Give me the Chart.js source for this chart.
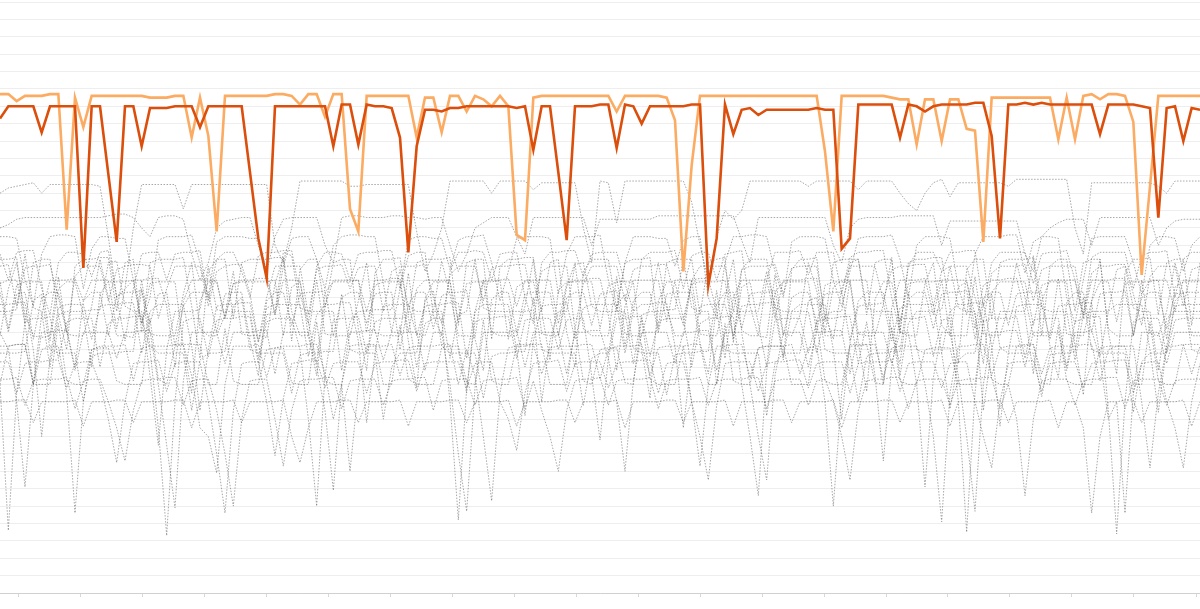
<!DOCTYPE html>
<html>
<head>
<meta charset="utf-8">
<script src="https://cdn.jsdelivr.net/npm/chart.js@4"></script>
<style>
  html, body { margin: 0; padding: 0; background: #fff; }
  #wrap { width: 1200px; height: 609px; }
</style>
</head>
<body>
<div id="wrap"><canvas id="chart"></canvas></div>
<script>
// --- datos ---
const days = Array.from({ length: 145 }, (_, i) => i);

// serie destacada oscura
const darkSeries = [
  27.3, 28.0, 28.0, 28.0, 28.0, 26.5, 28.0, 28.0, 28.0, 28.0,
  18.7, 28.0, 28.0, 24.1, 20.2, 28.0, 28.0, 25.7, 27.9, 27.9,
  27.9, 28.0, 28.0, 28.0, 26.8, 28.0, 28.0, 28.0, 28.0, 28.0,
  24.2, 20.4, 18.1, 28.0, 28.0, 28.0, 28.0, 28.0, 28.0, 28.0,
  25.7, 28.1, 28.1, 25.8, 28.1, 28.0, 28.0, 27.9, 26.2, 19.6,
  25.7, 27.8, 27.8, 27.7, 27.9, 27.9, 28.0, 28.0, 28.0, 28.0,
  28.0, 28.0, 27.9, 28.0, 25.5, 28.0, 28.0, 24.2, 20.3, 28.0,
  28.0, 28.0, 28.1, 28.1, 25.6, 28.1, 28.0, 27.0, 28.0, 28.0,
  28.0, 28.0, 28.0, 28.1, 28.1, 17.7, 20.4, 28.1, 26.4, 27.8,
  27.9, 27.5, 27.8, 27.8, 27.8, 27.8, 27.8, 27.8, 27.9, 27.8,
  27.8, 19.8, 20.4, 28.1, 28.1, 28.1, 28.1, 28.1, 26.2, 28.1,
  28.0, 27.7, 28.0, 28.1, 28.1, 28.1, 28.1, 28.2, 28.2, 26.3,
  20.4, 28.1, 28.1, 28.2, 28.1, 28.2, 28.1, 28.1, 28.1, 28.1,
  28.1, 28.1, 26.4, 28.1, 28.1, 28.1, 28.1, 28.0, 27.9, 21.6,
  27.9, 28.0, 26.0, 27.9, 27.8
];

// serie destacada clara
const lightSeries = [
  28.7, 28.7, 28.3, 28.6, 28.6, 28.6, 28.7, 28.7, 20.9, 28.5,
  26.8, 28.6, 28.6, 28.6, 28.6, 28.6, 28.6, 28.6, 28.5, 28.5,
  28.5, 28.6, 28.6, 26.2, 28.5, 26.3, 20.8, 28.6, 28.6, 28.6,
  28.6, 28.6, 28.6, 28.7, 28.7, 28.6, 28.1, 28.7, 28.7, 27.4,
  28.7, 28.7, 22.1, 20.8, 28.6, 28.6, 28.6, 28.6, 28.6, 28.6,
  26.2, 28.5, 28.5, 26.5, 28.6, 28.6, 27.7, 28.6, 28.4, 28.0,
  28.6, 28.0, 20.6, 20.3, 28.5, 28.6, 28.6, 28.6, 28.6, 28.6,
  28.6, 28.6, 28.6, 28.6, 27.7, 28.6, 28.6, 28.6, 28.6, 28.6,
  28.5, 27.2, 18.5, 24.6, 28.6, 28.6, 28.6, 28.6, 28.6, 28.6,
  28.6, 28.6, 28.6, 28.6, 28.6, 28.6, 28.6, 28.6, 28.6, 25.4,
  20.8, 28.6, 28.6, 28.6, 28.6, 28.6, 28.6, 28.5, 28.4, 28.4,
  25.8, 28.4, 28.4, 26.0, 28.4, 28.4, 26.7, 26.6, 20.2, 28.5,
  28.5, 28.5, 28.5, 28.5, 28.5, 28.5, 28.5, 26.1, 28.5, 26.1,
  28.6, 28.7, 28.4, 28.7, 28.7, 28.6, 27.1, 18.3, 23.4, 28.6,
  28.6, 28.6, 28.6, 28.6, 28.6
];

// resto de series (fondo gris)
const g01 = [
  23.0, 23.3, 23.4, 23.5, 23.6, 23.0, 23.5, 23.5, 23.5, 23.5,
  23.5, 23.5, 23.4, 20.5, 17.0, 17.5, 21.0, 23.5, 23.5, 23.5,
  23.5, 23.5, 22.1, 23.5, 23.5, 23.5, 23.5, 23.5, 23.5, 23.5,
  23.5, 23.5, 23.5, 20.0, 19.0, 21.0, 23.7, 23.7, 23.7, 23.7,
  23.7, 23.7, 23.4, 23.4, 23.5, 23.5, 23.5, 23.5, 23.5, 23.5,
  20.8, 18.5, 19.5, 21.0, 23.7, 23.7, 23.7, 23.7, 23.7, 23.0,
  23.7, 23.7, 23.7, 23.7, 23.2, 23.6, 23.6, 23.6, 23.6, 23.6,
  21.0, 19.0, 23.7, 23.6, 21.3, 23.7, 23.7, 23.7, 23.7, 23.7,
  23.7, 23.7, 23.7, 22.5, 20.0, 18.0, 20.5, 22.0, 21.5, 22.0,
  23.7, 23.7, 23.7, 23.7, 23.7, 23.7, 23.7, 23.4, 23.7, 23.7,
  23.7, 23.7, 23.7, 23.2, 23.7, 23.7, 23.7, 23.7, 23.0, 22.4,
  22.0, 23.0, 23.6, 23.8, 22.8, 23.6, 23.6, 23.6, 23.6, 23.6,
  23.6, 23.4, 23.8, 23.8, 23.8, 23.8, 23.8, 23.8, 23.8, 21.0,
  19.5, 23.6, 23.6, 23.6, 23.6, 23.6, 23.6, 23.6, 23.6, 23.4,
  23.0, 23.7, 23.7, 23.7, 23.7
];
const g02 = [
  21.0, 21.2, 21.5, 21.6, 21.6, 21.6, 21.6, 21.6, 21.6, 21.6,
  21.6, 21.6, 21.6, 21.7, 21.8, 21.8, 21.6, 21.0, 20.5, 21.6,
  21.7, 21.7, 21.5, 19.5, 18.0, 19.0, 21.0, 21.4, 21.5, 21.6,
  21.6, 20.0, 18.5, 20.5, 21.5, 21.6, 21.6, 21.6, 21.6, 20.0,
  19.0, 21.6, 21.7, 21.7, 21.6, 21.6, 21.6, 21.7, 21.7, 21.6,
  21.6, 21.5, 21.6, 21.6, 20.0, 18.5, 19.5, 21.0, 21.3, 21.6,
  21.6, 21.6, 20.5, 19.5, 21.6, 21.6, 21.6, 21.6, 21.6, 21.6,
  21.6, 20.0, 21.5, 21.5, 21.5, 21.5, 21.5, 21.5, 21.5, 21.7,
  21.7, 21.7, 21.7, 21.7, 21.7, 21.7, 21.7, 21.7, 21.7, 20.3,
  19.0, 21.6, 21.6, 21.6, 21.6, 21.6, 21.6, 21.6, 21.6, 21.6,
  20.0, 19.0, 21.0, 21.5, 21.6, 21.6, 21.6, 21.6, 21.7, 21.7,
  21.7, 21.7, 21.7, 20.0, 21.4, 21.4, 21.4, 21.4, 21.4, 21.4,
  21.4, 21.4, 21.4, 19.5, 18.5, 20.5, 21.0, 21.3, 21.5, 21.5,
  21.5, 20.0, 21.6, 21.6, 21.6, 21.6, 21.6, 21.6, 21.6, 20.0,
  21.0, 21.4, 21.5, 21.5, 21.5
];
const g03 = [
  20.5, 20.5, 20.4, 18.0, 16.5, 19.5, 20.5, 20.6, 20.6, 20.5, 17.5, 19.8, 20.5, 20.5, 20.4,
  20.4, 18.0, 15.5, 17.0, 20.3, 20.5, 20.5, 20.5, 20.6, 19.0, 17.0, 20.2, 20.5, 20.5, 20.5,
  20.4, 20.4, 18.5, 16.0, 18.8, 20.4, 20.5, 20.5, 19.2, 17.5, 20.0, 20.5, 20.6, 20.6, 20.5,
  20.5, 17.8, 15.0, 17.5, 20.3, 20.5, 20.5, 20.4, 20.4, 18.6, 20.3, 20.5, 20.5, 20.6, 19.0,
  16.8, 18.5, 20.4, 20.5, 20.5, 20.5, 20.4, 17.2, 19.5, 20.5, 20.5, 20.5, 20.6, 18.0, 16.2,
  19.0, 20.5, 20.5, 20.5, 20.4, 20.4, 18.8, 20.3, 20.5, 20.5, 17.0, 15.8, 19.0, 20.5, 20.5,
  20.6, 20.6, 20.5, 18.5, 17.0, 20.2, 20.5, 20.5, 20.5, 20.4, 18.0, 16.5, 18.5, 20.4, 20.5,
  20.5, 20.5, 20.6, 19.2, 17.0, 20.0, 20.5, 20.5, 20.5, 20.4, 17.6, 16.0, 19.5, 20.5, 20.5,
  20.5, 20.6, 20.6, 18.4, 20.2, 20.5, 20.5, 20.4, 17.0, 15.5, 18.0, 20.4, 20.5, 20.5, 20.5,
  20.5, 19.0, 17.2, 20.0, 20.5, 20.5, 20.4, 18.5, 20.0, 20.5
];
const g04 = [
  19.5, 18.0, 19.6, 19.7, 19.7, 17.5, 16.0, 19.0, 19.6, 19.6, 19.5, 18.2, 19.6, 19.7, 17.0,
  14.5, 17.5, 19.5, 19.6, 19.6, 18.0, 19.5, 19.6, 19.6, 19.7, 16.8, 19.2, 19.6, 19.6, 18.5,
  17.0, 19.4, 19.6, 19.6, 19.7, 19.7, 17.2, 15.5, 18.8, 19.6, 19.6, 19.5, 18.0, 19.5, 19.6,
  19.6, 19.7, 19.7, 17.5, 19.4, 19.6, 19.6, 16.0, 14.8, 18.5, 19.6, 19.6, 19.7, 19.6, 18.0,
  19.5, 19.6, 19.6, 17.0, 15.5, 19.0, 19.6, 19.6, 19.7, 19.7, 18.2, 19.5, 19.6, 19.6, 19.6,
  17.8, 16.2, 19.2, 19.6, 19.6, 19.6, 19.7, 17.5, 19.4, 19.6, 19.6, 18.0, 19.5, 19.6, 19.7,
  16.5, 14.8, 18.0, 19.6, 19.6, 19.6, 19.7, 18.3, 19.6, 19.6, 19.6, 17.2, 19.3, 19.6, 19.6,
  19.7, 19.7, 17.0, 15.0, 18.8, 19.6, 19.6, 19.6, 18.5, 19.6, 19.6, 19.7, 19.7, 16.5, 19.0,
  19.6, 19.6, 19.6, 19.6, 17.8, 19.5, 19.6, 19.6, 19.7, 18.0, 16.0, 19.3, 19.6, 19.6, 19.6,
  19.6, 17.5, 19.4, 19.6, 19.6, 19.7, 17.0, 19.2, 19.6, 19.6
];
const g05 = [
  18.8, 18.9, 16.5, 18.7, 18.8, 18.8, 18.9, 17.0, 15.0, 18.2, 18.8, 18.8, 18.8, 16.8, 18.6,
  18.8, 18.9, 18.9, 18.8, 15.8, 17.5, 18.8, 18.8, 18.8, 18.8, 16.5, 18.5, 18.8, 18.9, 18.9,
  17.2, 14.5, 17.0, 18.8, 18.8, 18.8, 18.8, 16.0, 18.6, 18.8, 18.8, 18.9, 17.5, 18.7, 18.8,
  18.8, 16.2, 18.5, 18.8, 18.8, 18.8, 18.9, 17.0, 15.5, 18.3, 18.8, 18.8, 18.8, 16.8, 18.7,
  18.8, 18.8, 18.9, 18.9, 16.5, 18.5, 18.8, 18.8, 18.8, 15.2, 17.8, 18.8, 18.8, 18.8, 18.8,
  16.8, 18.6, 18.8, 18.8, 18.9, 18.9, 17.0, 15.4, 18.0, 18.8, 18.8, 18.8, 18.8, 16.2, 18.6,
  18.8, 18.8, 18.8, 18.9, 17.2, 18.7, 18.8, 18.8, 18.8, 16.0, 14.6, 17.5, 18.8, 18.8, 18.8,
  18.8, 16.8, 18.6, 18.8, 18.8, 18.9, 18.9, 16.5, 18.5, 18.8, 18.8, 18.8, 17.0, 15.6, 18.4,
  18.8, 18.8, 18.8, 18.9, 16.8, 18.6, 18.8, 18.8, 18.8, 18.8, 16.0, 18.4, 18.8, 18.8, 18.9,
  18.9, 17.2, 15.4, 18.2, 18.8, 18.8, 18.8, 16.5, 18.6, 18.8
];
const g06 = [
  17.8, 18.0, 18.0, 15.5, 12.0, 16.0, 18.0, 18.0, 18.0, 18.1, 16.8, 18.0, 18.0, 18.0, 15.2,
  17.5, 18.0, 18.0, 18.1, 18.1, 16.5, 13.0, 16.8, 18.0, 18.0, 18.0, 18.0, 15.8, 17.8, 18.0,
  18.0, 18.1, 18.1, 16.0, 18.0, 18.0, 18.0, 14.8, 12.5, 16.5, 18.0, 18.0, 18.0, 18.0, 16.2,
  18.0, 18.0, 18.1, 18.1, 15.0, 17.5, 18.0, 18.0, 18.0, 18.0, 14.0, 11.5, 16.2, 18.0, 18.0,
  18.0, 18.1, 16.5, 18.0, 18.0, 18.0, 18.0, 15.5, 17.8, 18.0, 18.0, 18.1, 18.1, 16.0, 12.8,
  16.5, 18.0, 18.0, 18.0, 18.0, 15.6, 18.0, 18.0, 18.0, 18.1, 18.1, 16.2, 13.5, 17.0, 18.0,
  18.0, 18.0, 18.0, 15.8, 18.0, 18.0, 18.0, 18.1, 18.1, 15.0, 17.6, 18.0, 18.0, 18.0, 18.0,
  14.6, 12.0, 16.4, 18.0, 18.0, 18.0, 18.1, 16.0, 18.0, 18.0, 18.0, 18.0, 15.2, 17.7, 18.0,
  18.0, 18.1, 18.1, 16.0, 12.6, 16.8, 18.0, 18.0, 18.0, 18.0, 15.8, 18.0, 18.0, 18.0, 18.1,
  18.1, 14.8, 17.2, 18.0, 18.0, 18.0, 16.2, 18.0, 18.0, 18.0
];
const g07 = [
  17.3, 15.0, 17.2, 17.3, 14.6, 17.0, 17.3, 17.3, 15.2, 13.0, 16.8, 17.3, 17.3, 14.8, 17.1,
  17.3, 17.3, 17.4, 15.5, 17.2, 17.3, 14.2, 16.5, 17.3, 17.3, 17.3, 15.0, 17.2, 17.3, 17.3,
  14.5, 12.5, 16.8, 17.3, 17.3, 15.4, 17.2, 17.3, 17.3, 17.4, 14.8, 17.0, 17.3, 17.3, 15.5,
  17.2, 17.3, 17.3, 14.0, 16.6, 17.3, 17.3, 15.2, 17.1, 17.3, 17.3, 17.4, 14.6, 12.8, 16.9,
  17.3, 17.3, 15.0, 17.2, 17.3, 17.3, 17.3, 14.8, 17.0, 17.3, 17.3, 15.4, 17.2, 17.3, 17.4,
  14.2, 16.8, 17.3, 17.3, 15.0, 17.2, 17.3, 17.3, 17.3, 14.4, 12.6, 16.6, 17.3, 17.3, 15.2,
  17.2, 17.3, 17.3, 17.4, 14.8, 17.0, 17.3, 17.3, 15.6, 17.2, 17.3, 17.3, 14.5, 16.8, 17.3,
  17.3, 17.3, 15.0, 13.2, 16.9, 17.3, 17.3, 15.2, 17.2, 17.3, 17.3, 17.4, 14.6, 17.0, 17.3,
  17.3, 15.4, 17.2, 17.3, 17.3, 17.3, 14.2, 12.4, 16.7, 17.3, 17.3, 15.0, 17.2, 17.3, 17.3,
  17.4, 14.8, 17.0, 17.3, 17.3, 15.2, 17.2, 17.3, 17.3, 17.3
];
const g08 = [
  16.6, 16.6, 16.7, 16.7, 14.0, 9.0, 13.5, 16.4, 16.6, 16.6, 16.6, 14.6, 16.5, 16.6, 16.6,
  16.7, 16.7, 13.8, 16.2, 16.6, 16.6, 16.6, 16.6, 14.2, 10.5, 14.0, 16.5, 16.6, 16.6, 16.7,
  16.7, 14.4, 16.4, 16.6, 16.6, 16.6, 16.6, 13.6, 16.0, 16.6, 16.6, 16.7, 16.7, 14.5, 9.8,
  13.8, 16.5, 16.6, 16.6, 16.6, 14.8, 16.5, 16.6, 16.6, 16.7, 16.7, 13.5, 16.2, 16.6, 16.6,
  16.6, 16.6, 14.0, 10.2, 14.5, 16.5, 16.6, 16.6, 16.7, 14.6, 16.4, 16.6, 16.6, 16.6, 16.6,
  13.8, 16.2, 16.6, 16.6, 16.7, 16.7, 14.2, 9.5, 13.6, 16.5, 16.6, 16.6, 16.6, 14.8, 16.5,
  16.6, 16.6, 16.7, 16.7, 13.6, 16.2, 16.6, 16.6, 16.6, 16.6, 14.0, 10.0, 14.4, 16.5, 16.6,
  16.6, 16.7, 14.5, 16.4, 16.6, 16.6, 16.6, 16.6, 13.8, 16.2, 16.6, 16.6, 16.7, 16.7, 14.2,
  9.6, 13.8, 16.5, 16.6, 16.6, 16.6, 14.6, 16.5, 16.6, 16.6, 16.7, 16.7, 13.6, 16.2, 16.6,
  16.6, 16.6, 16.6, 14.0, 10.4, 14.2, 16.5, 16.6, 16.6, 16.6
];
const g09 = [
  12.0, 3.6, 11.5, 15.6, 15.8, 15.8, 15.9, 13.5, 15.6, 15.8, 15.8, 15.8, 13.0, 15.5, 15.8,
  15.8, 15.9, 15.9, 14.0, 9.5, 3.3, 11.0, 15.6, 15.8, 15.8, 13.6, 15.7, 15.8, 15.8, 15.9,
  15.9, 13.2, 15.6, 15.8, 15.8, 15.8, 14.0, 10.0, 5.0, 12.5, 15.7, 15.8, 15.8, 15.9, 13.8,
  15.6, 15.8, 15.8, 15.8, 15.9, 13.0, 15.5, 15.8, 15.8, 11.0, 4.2, 11.8, 15.6, 15.8, 15.8,
  15.9, 15.9, 13.5, 15.7, 15.8, 15.8, 15.8, 14.0, 15.7, 15.8, 15.8, 12.5, 8.8, 13.5, 15.8,
  15.8, 15.9, 15.9, 13.6, 15.6, 15.8, 15.8, 15.8, 13.0, 15.5, 15.8, 15.8, 15.9, 15.9, 12.0,
  9.0, 5.6, 12.8, 15.7, 15.8, 15.8, 15.8, 13.8, 15.6, 15.8, 15.8, 15.9, 15.9, 13.2, 15.6,
  12.5, 7.6, 13.0, 15.8, 15.8, 15.8, 15.9, 13.6, 15.7, 15.8, 11.0, 3.5, 11.5, 15.6, 15.8,
  15.8, 15.8, 15.9, 13.5, 15.7, 15.8, 15.8, 15.8, 13.0, 15.6, 15.8, 15.9, 15.9, 10.5, 3.4,
  11.0, 15.6, 15.8, 15.8, 15.8, 13.8, 15.7, 15.8, 15.8, 15.8
];
const g10 = [
  15.0, 14.0, 11.0, 6.1, 12.0, 15.0, 15.0, 15.1, 15.1, 12.8, 15.0, 15.0, 15.0, 15.0, 13.5,
  15.0, 15.0, 15.1, 15.1, 12.0, 8.5, 4.9, 12.2, 15.0, 15.0, 15.0, 15.0, 13.2, 15.0, 15.0,
  15.0, 15.1, 15.1, 12.6, 15.0, 15.0, 15.0, 15.0, 13.0, 10.5, 5.9, 12.0, 15.0, 15.0, 15.1,
  15.1, 13.4, 15.0, 15.0, 15.0, 15.0, 12.8, 15.0, 15.0, 12.0, 8.0, 4.7, 11.8, 15.0, 15.0,
  15.0, 15.0, 15.1, 13.0, 15.0, 15.0, 15.0, 15.0, 12.6, 15.0, 15.0, 15.1, 15.1, 13.5, 11.0,
  7.0, 12.2, 15.0, 15.0, 15.0, 15.0, 13.2, 15.0, 15.0, 15.1, 15.1, 12.8, 15.0, 15.0, 15.0,
  12.0, 9.0, 6.5, 12.5, 15.0, 15.0, 15.0, 13.0, 15.0, 15.0, 15.1, 15.1, 12.6, 15.0, 15.0,
  15.0, 15.0, 13.2, 15.0, 15.0, 12.0, 6.1, 12.4, 15.0, 15.0, 12.5, 9.0, 4.7, 12.0, 15.0,
  15.0, 15.1, 15.1, 13.0, 15.0, 15.0, 15.0, 15.0, 12.8, 15.0, 15.0, 15.1, 13.5, 10.0, 11.0,
  4.6, 11.5, 15.0, 15.0, 15.0, 13.2, 15.0, 15.0, 15.0, 15.0
];
const g11 = [
  14.2, 14.2, 14.3, 14.3, 12.0, 14.0, 14.2, 14.2, 11.5, 4.6, 11.0, 14.0, 14.2, 14.2, 14.2,
  14.3, 12.2, 14.1, 14.2, 14.2, 14.2, 14.3, 14.3, 12.5, 9.5, 9.0, 6.9, 12.0, 14.2, 14.2,
  14.2, 14.3, 12.4, 14.1, 14.2, 14.2, 14.2, 14.3, 14.3, 12.6, 10.0, 12.0, 7.0, 11.8, 14.2,
  14.2, 14.2, 14.3, 12.5, 14.1, 14.2, 14.2, 14.2, 14.3, 14.3, 12.0, 14.0, 12.5, 9.0, 5.3,
  11.5, 14.1, 14.2, 14.2, 14.3, 12.6, 14.1, 14.2, 14.2, 14.2, 14.3, 14.3, 12.3, 14.0, 14.2,
  14.2, 14.2, 14.3, 12.5, 14.1, 14.2, 14.2, 14.2, 11.0, 7.3, 12.0, 14.2, 14.2, 14.3, 14.3,
  12.4, 14.1, 14.2, 14.2, 14.2, 14.3, 12.6, 14.1, 14.2, 11.0, 5.0, 11.5, 14.2, 14.2, 14.3,
  14.3, 12.4, 14.1, 14.2, 14.2, 14.2, 12.0, 9.0, 4.1, 11.5, 14.2, 14.2, 14.3, 14.3, 12.5,
  14.1, 14.2, 14.2, 14.2, 14.3, 12.6, 14.1, 14.2, 14.2, 14.2, 14.3, 14.3, 12.2, 14.0, 14.2,
  14.2, 14.2, 11.0, 7.2, 11.5, 14.2, 14.2, 14.3, 12.6, 14.2
];
const g12 = [
  13.3, 13.3, 11.5, 13.2, 13.3, 13.3, 13.4, 13.4, 11.8, 13.2, 13.3, 13.3, 12.0, 10.0, 7.5,
  11.0, 13.2, 13.3, 13.3, 13.4, 11.6, 13.2, 13.3, 13.3, 13.3, 11.0, 8.0, 4.6, 10.5, 13.2,
  13.3, 13.3, 11.0, 7.9, 11.2, 13.2, 13.3, 13.4, 13.4, 11.8, 13.2, 13.3, 13.3, 13.3, 11.5,
  13.2, 13.3, 13.3, 13.4, 13.4, 11.6, 13.2, 13.3, 13.3, 13.3, 13.3, 11.8, 13.2, 13.3, 13.3,
  11.0, 10.0, 8.2, 11.5, 13.2, 13.3, 13.3, 13.4, 11.6, 13.2, 13.3, 13.3, 13.3, 11.8, 13.2,
  13.3, 13.3, 13.4, 13.4, 11.5, 13.2, 13.3, 13.3, 11.0, 9.0, 6.5, 10.8, 13.2, 13.3, 13.3,
  13.3, 11.6, 13.2, 13.3, 13.3, 13.4, 13.4, 11.8, 13.2, 13.3, 13.3, 13.3, 11.5, 13.2, 13.3,
  13.3, 13.3, 13.4, 11.6, 13.2, 13.3, 13.3, 13.3, 11.8, 13.2, 13.3, 13.3, 11.0, 9.0, 7.2,
  11.0, 13.2, 13.3, 13.3, 13.4, 11.6, 13.2, 13.3, 13.3, 13.3, 11.8, 13.2, 13.3, 13.3, 13.4,
  13.4, 11.5, 13.2, 13.3, 13.3, 11.0, 9.5, 7.2, 11.0, 13.2
];
const g13 = [
  12.3, 12.3, 12.4, 10.8, 12.2, 12.3, 12.3, 12.3, 12.4, 10.6, 12.2, 12.3, 12.3, 11.0, 9.5,
  7.6, 10.5, 12.2, 12.3, 12.3, 12.4, 12.4, 10.8, 12.2, 12.3, 12.3, 10.5, 8.0, 5.0, 10.0,
  12.2, 12.3, 12.3, 10.0, 7.3, 10.5, 12.2, 12.3, 12.3, 12.4, 12.4, 10.6, 12.2, 12.3, 12.3,
  12.3, 10.8, 12.2, 12.3, 12.3, 12.4, 12.4, 10.5, 12.2, 12.3, 12.3, 12.3, 10.8, 12.2, 12.3,
  12.3, 12.3, 12.4, 10.6, 12.2, 10.5, 9.0, 7.0, 10.5, 12.2, 12.3, 12.3, 12.4, 10.8, 12.2,
  12.3, 12.3, 12.3, 12.4, 10.6, 12.2, 12.3, 12.3, 12.3, 12.4, 10.8, 12.2, 12.3, 12.3, 12.3,
  12.4, 12.4, 10.6, 12.2, 12.3, 12.3, 12.3, 10.8, 12.2, 12.3, 11.0, 9.0, 6.5, 10.5, 12.2,
  12.3, 12.3, 12.4, 12.4, 10.6, 12.2, 12.3, 12.3, 12.3, 10.8, 12.2, 12.3, 12.3, 12.4, 12.4,
  10.6, 12.0, 10.0, 5.6, 10.0, 12.2, 12.3, 12.3, 12.3, 10.8, 12.2, 12.3, 12.3, 12.4, 12.4,
  10.6, 12.2, 12.3, 12.3, 12.3, 10.8, 12.2, 12.3, 12.3, 12.3
];
const g14 = [
  11.0, 11.0, 11.1, 11.1, 9.8, 11.0, 11.0, 11.0, 11.0, 11.1, 9.6, 11.0, 11.0, 11.0, 11.1,
  11.1, 9.8, 11.0, 11.0, 11.0, 11.0, 11.1, 11.1, 9.5, 11.0, 11.0, 11.0, 11.0, 11.1, 9.8,
  11.0, 11.0, 11.0, 11.0, 11.1, 9.0, 7.5, 9.5, 11.0, 11.0, 11.0, 11.1, 11.1, 9.8, 11.0,
  11.0, 11.0, 11.0, 11.1, 9.6, 11.0, 11.0, 11.0, 11.0, 11.1, 11.1, 9.8, 11.0, 11.0, 11.0,
  11.0, 11.1, 9.6, 11.0, 11.0, 11.0, 11.0, 11.1, 11.1, 9.8, 11.0, 11.0, 11.0, 11.0, 11.1,
  9.5, 11.0, 11.0, 11.0, 11.0, 11.1, 11.1, 9.8, 11.0, 11.0, 11.0, 11.0, 11.1, 9.6, 11.0,
  11.0, 11.0, 11.0, 11.1, 11.1, 9.8, 11.0, 11.0, 11.0, 11.0, 11.1, 9.5, 11.0, 11.0, 11.0,
  11.0, 11.1, 11.1, 9.8, 11.0, 11.0, 11.0, 11.0, 11.1, 9.6, 11.0, 11.0, 11.0, 11.0, 11.1,
  11.1, 9.8, 11.0, 11.0, 11.0, 11.0, 11.1, 9.5, 11.0, 11.0, 9.5, 4.6, 9.0, 11.0, 11.0,
  11.1, 11.1, 9.8, 11.0, 11.0, 11.0, 11.0, 11.1, 9.6, 11.0
];
const g15 = [
  14.8, 17.5, 19.0, 16.0, 14.8, 14.7, 14.8, 18.2, 14.9, 14.8, 14.8, 16.5, 19.2, 17.0, 14.8,
  14.8, 14.7, 18.0, 14.9, 14.8, 14.8, 14.8, 17.2, 19.0, 15.2, 14.8, 14.8, 16.0, 18.5, 14.9,
  14.8, 14.8, 14.7, 17.8, 19.3, 16.2, 14.8, 14.8, 18.0, 14.9, 14.8, 14.8, 14.8, 16.8, 19.0,
  15.0, 14.8, 14.8, 14.8, 18.4, 14.9, 14.8, 16.2, 19.1, 17.2, 14.8, 14.8, 14.7, 18.0, 15.0,
  14.8, 14.8, 14.8, 16.5, 19.2, 14.9, 14.8, 14.8, 17.6, 19.0, 15.2, 14.8, 14.8, 14.8, 18.2,
  14.9, 14.8, 14.8, 16.6, 19.0, 16.4, 14.8, 14.8, 18.0, 14.9, 14.8, 14.8, 17.0, 19.2, 15.1,
  14.8, 14.8, 14.7, 18.3, 14.9, 14.8, 16.0, 19.0, 17.4, 14.8, 14.8, 14.8, 18.0, 14.9, 14.8,
  14.8, 16.6, 19.3, 15.0, 14.8, 14.8, 17.8, 19.0, 15.4, 14.8, 14.8, 14.8, 18.2, 14.9, 14.8,
  14.8, 16.4, 19.0, 17.0, 14.8, 14.8, 14.8, 18.1, 14.9, 14.8, 14.8, 16.8, 19.2, 15.2, 14.8,
  14.8, 14.8, 18.0, 14.9, 14.8, 16.2, 19.0, 17.2, 14.8, 14.8
];
const g16 = [
  16.2, 16.2, 16.3, 19.5, 16.4, 16.2, 13.0, 16.0, 16.2, 16.2, 16.2, 16.3, 16.3, 19.0, 19.1,
  16.5, 16.2, 16.2, 12.5, 8.5, 14.0, 16.2, 16.2, 16.2, 16.3, 18.8, 16.3, 16.2, 16.2, 16.2,
  16.2, 13.5, 16.0, 16.2, 19.6, 19.4, 16.4, 16.2, 16.2, 16.2, 16.2, 12.8, 15.6, 16.2, 16.2,
  16.3, 16.3, 16.3, 18.6, 16.5, 16.2, 16.2, 16.2, 16.2, 13.5, 16.0, 16.2, 19.2, 16.4, 16.2,
  16.2, 16.2, 16.2, 16.2, 16.3, 11.0, 14.5, 16.2, 16.2, 18.9, 19.0, 16.5, 16.2, 16.2, 16.2,
  16.2, 13.2, 16.0, 16.2, 16.2, 16.3, 16.3, 19.3, 16.4, 16.2, 16.2, 12.0, 15.0, 16.2, 16.2,
  16.2, 16.2, 18.5, 16.4, 16.2, 16.2, 16.2, 16.2, 13.8, 16.0, 16.2, 16.2, 19.0, 19.2, 16.4,
  16.2, 16.2, 16.2, 12.5, 15.5, 16.2, 16.2, 16.2, 16.3, 18.8, 16.4, 16.2, 16.2, 10.5, 14.0,
  16.2, 16.2, 16.2, 16.2, 19.4, 16.4, 16.2, 16.2, 16.2, 13.4, 16.0, 16.2, 16.2, 16.2, 18.6,
  18.8, 16.4, 16.2, 16.2, 12.8, 15.8, 16.2, 16.2, 16.2, 16.2
];
const g17 = [
  13.8, 13.8, 13.8, 13.9, 16.8, 17.2, 14.0, 13.8, 13.8, 13.8, 11.0, 13.6, 13.8, 13.8, 13.8,
  13.9, 13.9, 17.5, 14.2, 13.8, 13.8, 13.8, 13.8, 10.5, 13.4, 13.8, 13.8, 13.9, 16.5, 17.0,
  14.0, 13.8, 13.8, 13.8, 13.8, 11.5, 13.7, 13.8, 13.8, 13.9, 13.9, 17.2, 14.0, 13.8, 13.8,
  13.8, 10.0, 13.0, 13.8, 13.8, 13.8, 16.8, 17.4, 14.2, 13.8, 13.8, 13.8, 13.8, 11.2, 13.6,
  13.8, 13.8, 13.9, 13.9, 17.0, 14.0, 13.8, 13.8, 13.8, 13.8, 10.8, 13.5, 13.8, 13.8, 16.5,
  17.2, 14.1, 13.8, 13.8, 13.8, 11.4, 13.7, 13.8, 13.8, 13.9, 13.9, 17.4, 14.0, 13.8, 13.8,
  13.8, 13.8, 10.2, 13.2, 13.8, 13.8, 13.8, 16.8, 17.0, 14.0, 13.8, 13.8, 13.8, 11.0, 13.6,
  13.8, 13.8, 13.9, 13.9, 17.3, 14.0, 13.8, 13.8, 13.8, 10.6, 13.4, 13.8, 13.8, 16.6, 17.2,
  14.1, 13.8, 13.8, 13.8, 13.8, 11.3, 13.7, 13.8, 13.8, 13.9, 17.0, 14.0, 13.8, 13.8, 13.8,
  13.8, 10.4, 13.3, 13.8, 13.8, 13.8, 16.8, 17.3, 14.0, 13.8
];
const g18 = [
  19.2, 19.2, 19.3, 15.5, 19.0, 19.2, 19.2, 16.0, 14.0, 18.8, 19.2, 19.2, 19.3, 19.3, 16.2,
  19.0, 19.2, 15.0, 19.0, 19.2, 19.2, 19.2, 19.3, 16.5, 13.5, 18.5, 19.2, 19.2, 15.8, 19.0,
  19.2, 19.2, 19.2, 19.3, 19.3, 14.5, 18.6, 19.2, 19.2, 16.4, 19.0, 19.2, 19.2, 15.2, 12.8,
  18.4, 19.2, 19.2, 19.3, 16.0, 19.0, 19.2, 19.2, 19.2, 19.3, 15.4, 19.0, 19.2, 19.2, 14.6,
  18.8, 19.2, 19.2, 19.3, 19.3, 16.2, 19.0, 19.2, 15.0, 13.0, 18.5, 19.2, 19.2, 19.2, 16.4,
  19.0, 19.2, 19.2, 19.3, 15.2, 19.0, 19.2, 19.2, 19.2, 16.0, 19.0, 19.2, 19.3, 14.4, 18.6,
  19.2, 19.2, 19.2, 16.2, 13.4, 18.6, 19.2, 19.2, 19.3, 15.6, 19.0, 19.2, 19.2, 19.2, 16.0,
  19.0, 19.2, 19.2, 15.0, 19.0, 19.2, 19.2, 19.3, 19.3, 16.4, 13.2, 18.6, 19.2, 19.2, 15.8,
  19.0, 19.2, 19.2, 19.2, 19.3, 14.8, 18.8, 19.2, 19.2, 16.2, 19.0, 19.2, 19.2, 15.0, 12.6,
  18.4, 19.2, 19.2, 19.3, 16.0, 19.0, 19.2, 19.2, 15.4, 19.0
];
const g19 = [
  12.0, 14.2, 14.3, 14.3, 12.0, 12.0, 12.0, 15.5, 12.2, 12.0, 12.0, 14.0, 14.1, 14.1, 12.2,
  12.0, 12.0, 12.0, 15.8, 12.3, 12.0, 14.2, 14.3, 14.3, 14.3, 12.0, 12.0, 15.2, 12.2, 12.0,
  12.0, 12.0, 14.0, 14.1, 14.1, 12.1, 12.0, 12.0, 15.6, 12.2, 12.0, 12.0, 14.2, 14.3, 14.3,
  14.3, 12.0, 12.0, 15.4, 12.3, 12.0, 12.0, 12.0, 14.1, 14.2, 14.2, 12.1, 12.0, 15.7, 12.2,
  12.0, 12.0, 14.3, 14.3, 14.3, 14.3, 12.0, 12.0, 12.0, 15.2, 12.2, 12.0, 14.0, 14.1, 14.1,
  12.1, 12.0, 15.8, 12.3, 12.0, 12.0, 12.0, 14.2, 14.3, 14.3, 12.0, 12.0, 15.5, 12.2, 12.0,
  12.0, 14.1, 14.2, 14.2, 14.2, 12.0, 12.0, 12.0, 15.6, 12.2, 12.0, 12.0, 14.3, 14.3, 14.3,
  12.1, 12.0, 15.3, 12.2, 12.0, 12.0, 14.0, 14.1, 14.1, 14.1, 12.0, 12.0, 12.0, 15.7, 12.3,
  12.0, 12.0, 14.2, 14.3, 14.3, 12.1, 12.0, 15.4, 12.2, 12.0, 12.0, 12.0, 14.1, 14.2, 14.2,
  14.2, 12.0, 12.0, 15.6, 12.2, 12.0, 12.0, 14.3, 14.3, 14.3
];
const g20 = [
  17.9, 15.2, 17.7, 17.9, 17.9, 17.9, 14.5, 17.5, 17.9, 17.9, 16.0, 13.0, 17.2, 17.9, 17.9,
  17.9, 18.0, 15.5, 17.8, 17.9, 17.9, 17.9, 14.2, 11.5, 16.8, 17.9, 17.9, 15.8, 17.8, 17.9,
  17.9, 17.9, 17.9, 18.0, 14.8, 17.6, 17.9, 15.6, 13.2, 17.3, 17.9, 17.9, 17.9, 18.0, 15.0,
  17.7, 17.9, 17.9, 17.9, 14.5, 11.8, 16.9, 17.9, 17.9, 17.9, 15.6, 17.8, 17.9, 17.9, 17.9,
  18.0, 14.6, 17.6, 17.9, 17.9, 16.2, 13.4, 17.4, 17.9, 17.9, 17.9, 17.9, 15.2, 17.7, 17.9,
  17.9, 17.9, 14.0, 11.2, 16.8, 17.9, 17.9, 15.8, 17.8, 17.9, 17.9, 17.9, 18.0, 14.6, 17.6,
  17.9, 15.5, 13.0, 17.3, 17.9, 17.9, 17.9, 17.9, 15.0, 17.7, 17.9, 17.9, 17.9, 14.4, 11.6,
  16.9, 17.9, 17.9, 15.6, 17.8, 17.9, 17.9, 17.9, 18.0, 14.8, 17.6, 17.9, 16.0, 13.2, 17.3,
  17.9, 17.9, 17.9, 17.9, 15.4, 17.7, 17.9, 17.9, 17.9, 14.2, 11.4, 16.8, 17.9, 17.9, 15.6,
  17.8, 17.9, 17.9, 17.9, 18.0, 14.6, 17.6, 17.9, 17.9, 17.9
];

const greySeries = [g01, g02, g03, g04, g05, g06, g07, g08, g09, g10,
                    g11, g12, g13, g14, g15, g16, g17, g18, g19, g20];

// --- datasets ---
const datasets = [
  {
    data: darkSeries,
    borderColor: '#db4e0b',
    borderWidth: 2.6,
    pointRadius: 0,
    tension: 0
  },
  {
    data: lightSeries,
    borderColor: '#fcab62',
    borderWidth: 2.6,
    pointRadius: 0,
    tension: 0
  }
];
greySeries.forEach(s => {
  datasets.push({
    data: s,
    borderColor: 'rgba(95, 95, 95, 0.55)',
    borderWidth: 1,
    borderDash: [1.5, 1.5],
    pointRadius: 0,
    tension: 0
  });
});

new Chart(document.getElementById('chart'), {
  type: 'line',
  data: { labels: days, datasets: datasets },
  options: {
    responsive: true,
    maintainAspectRatio: false,
    animation: false,
    layout: { padding: { top: 2, bottom: 12, left: 0, right: 0 } },
    scales: {
      x: {
        type: 'linear',
        min: 0,
        max: 144,
        border: { color: '#d0d0d0' },
        grid: { drawOnChartArea: false, drawTicks: true, tickLength: 4, tickColor: '#d8d8d8' },
        ticks: { display: false },
        afterBuildTicks: scale => {
          // marcas cada ~7.44 puntos, como en el original
          const t = [];
          for (let v = 2.16; v <= 144; v += 7.44) t.push({ value: v });
          scale.ticks = t;
        }
      },
      y: {
        min: 0,
        max: 34,
        ticks: { display: false, stepSize: 1 },
        grid: { color: '#eeeeee', drawTicks: false },
        border: { display: false }
      }
    },
    plugins: {
      legend: { display: false },
      tooltip: { enabled: false }
    }
  }
});
</script>
</body>
</html>
